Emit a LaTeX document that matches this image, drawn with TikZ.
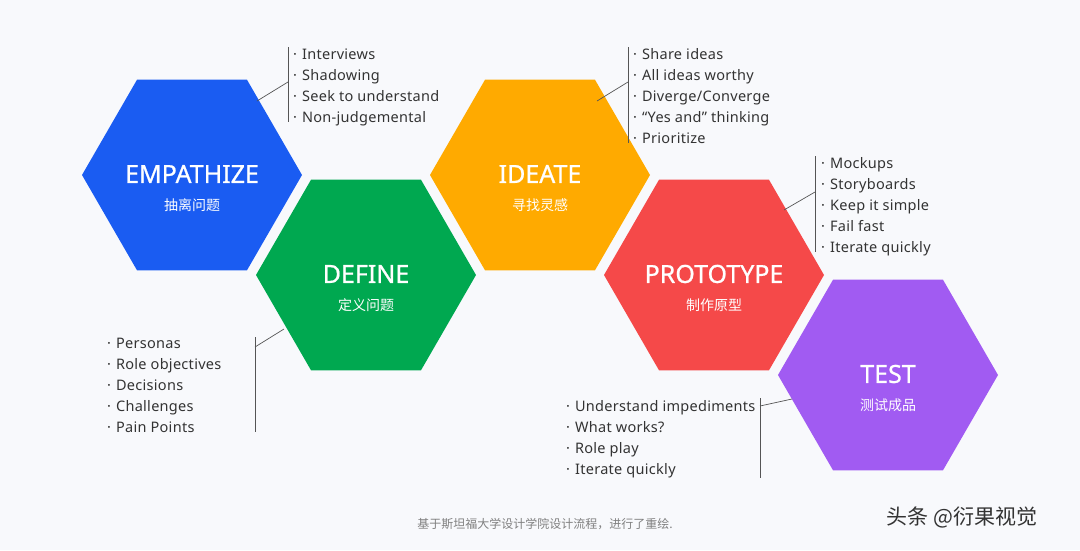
\documentclass[tikz,border=0pt]{standalone}
\usepackage{fontspec}
\setmainfont{Noto Sans}
\newfontfamily\cjk{Noto Sans CJK SC}
\newfontfamily\ttlfont[FakeBold=0.8]{Noto Sans}
\newfontfamily\itemfont[LetterSpace=2]{Noto Sans}
\usetikzlibrary{shapes.geometric}
\definecolor{bg}{HTML}{F8F9FC}
\definecolor{cblue}{HTML}{1A5CF2}
\definecolor{cgreen}{HTML}{00A850}
\definecolor{corange}{HTML}{FFAA00}
\definecolor{cred}{HTML}{F54949}
\definecolor{cpurple}{HTML}{A15BF2}
\definecolor{txt}{HTML}{333333}
\definecolor{lne}{HTML}{555555}
\tikzset{
 hex/.style={regular polygon,regular polygon sides=6,minimum size=220pt,inner sep=0pt,draw=none},
 ttl/.style={text=white,font=\ttlfont\fontsize{25}{28}\selectfont},
 sub/.style={text=white,font=\cjk\fontsize{14}{16}\selectfont},
 item/.style={anchor=base west,text=txt,font=\itemfont\fontsize{14.5}{16}\selectfont,inner sep=0pt},
 conn/.style={draw=lne,line width=0.7pt}
}
\newcommand{\lst}[4]{% x, y start, name prefix, items
 \foreach \t [count=\i] in {#4}{
  \node[item] (#3\i) at (#1,{#2+5+21*(\i-1)}) {·\hspace{5pt}\t};
 }}
\begin{document}
\begin{tikzpicture}[x=1pt,y=-1pt]
\fill[bg] (0,0) rectangle (1080,550);
\useasboundingbox (0,0) rectangle (1080,550);
\node[hex,fill=cblue] (h1) at (192,175) {};
\node[hex,fill=cgreen] (h2) at (366,275) {};
\node[hex,fill=corange] (h3) at (540,175) {};
\node[hex,fill=cred] (h4) at (714,275) {};
\node[hex,fill=cpurple] (h5) at (888,375) {};
\node[ttl] (t1) at (192,174) {EMPATHIZE};
\node[sub] (s1) at (192,205) {抽离问题};
\node[ttl] (t2) at (366,274) {DEFINE};
\node[sub] (s2) at (366,305) {定义问题};
\node[ttl] (t3) at (540,174) {IDEATE};
\node[sub] (s3) at (540,205) {寻找灵感};
\node[ttl] (t4) at (714,274) {PROTOTYPE};
\node[sub] (s4) at (714,305) {制作原型};
\node[ttl] (t5) at (888,374) {TEST};
\node[sub] (s5) at (888,405) {测试成品};
\lst{293}{54}{a}{Interviews,Shadowing,Seek to understand,Non-judgemental}
\lst{107}{343}{b}{Personas,Role objectives,Decisions,Challenges,Pain Points}
\lst{633}{54}{c}{Share ideas,All ideas worthy,Diverge/Converge,“Yes and” thinking,Prioritize}
\lst{821}{163}{d}{Mockups,Storyboards,Keep it simple,Fail fast,Iterate quickly}
\lst{566}{406}{e}{Understand impediments,What works?,Role play,Iterate quickly}
\coordinate (a1) at (288,47); \coordinate (a2) at (288,122); \coordinate (a3) at (288,82); \coordinate (a4) at (257,101);
\draw[conn] (a1)--(a2); \draw[conn] (a3)--(a4);
\coordinate (b1) at (255,337); \coordinate (b2) at (255,432); \coordinate (b3) at (255,347); \coordinate (b4) at (284,329);
\draw[conn] (b1)--(b2); \draw[conn] (b3)--(b4);
\coordinate (c1) at (628,47); \coordinate (c2) at (628,143); \coordinate (c3) at (628,82); \coordinate (c4) at (597,101);
\draw[conn] (c1)--(c2); \draw[conn] (c3)--(c4);
\coordinate (d1) at (815,156); \coordinate (d2) at (815,252); \coordinate (d3) at (815,192); \coordinate (d4) at (784,210);
\draw[conn] (d1)--(d2); \draw[conn] (d3)--(d4);
\coordinate (e1) at (760,398); \coordinate (e2) at (760,478); \coordinate (e3) at (760,406); \coordinate (e4) at (792,399);
\draw[conn] (e1)--(e2); \draw[conn] (e3)--(e4);
\node[text=gray,font=\cjk\fontsize{12}{14}\selectfont] (foot) at (545,524) {基于斯坦福大学设计学院设计流程，进行了重绘.};
\node[text=txt,font=\cjk\fontsize{21}{24}\selectfont] (wm) at (962,517) {头条 @衍果视觉};
\end{tikzpicture}
\end{document}
